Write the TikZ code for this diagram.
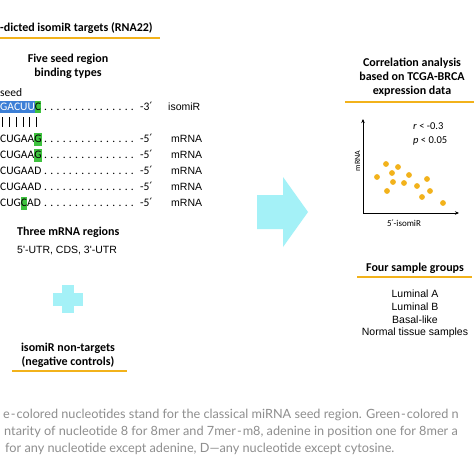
\documentclass[tikz,border=0pt]{standalone}
\usepackage{fontspec}
\setmainfont{Carlito}
\newfontfamily\arialf{Liberation Sans}
\newfontfamily\capf{Lato}
\newfontfamily\primef{DejaVu Sans}
\usetikzlibrary{arrows.meta}
\definecolor{gold}{HTML}{F2B21B}
\definecolor{cyanl}{HTML}{A4F1F7}
\definecolor{seedblue}{HTML}{3C7FD6}
\definecolor{seedgreen}{HTML}{3EC23E}
\definecolor{capgray}{HTML}{8E8E8E}
\newcommand\pr{{\primef ′}}
\newcommand\hy{\hspace{1pt}-\hspace{1pt}}
\newcommand\hlbox[2]{{\setlength{\fboxsep}{0pt}\colorbox{#1}{\rule[-3pt]{0pt}{12.5pt}#2}}}
\newcommand\dotrow{\foreach \i in {1,...,15}{.\hspace{3.3pt}}}
\tikzset{
  head/.style={font=\bfseries\fontsize{12}{14}\selectfont, align=center, inner sep=0},
  seq/.style={font=\fontsize{11.5}{12}\selectfont, anchor=base west, inner sep=0},
  lab/.style={font=\arialf\fontsize{10.5}{13}\selectfont, inner sep=0},
  goldline/.style={draw=gold, line width=1.6pt},
  captext/.style={font=\capf\fontsize{12.7}{14}\selectfont, text=capgray, anchor=base west, inner sep=0},
  cyanshape/.style={fill=cyanl, draw=none},
  golddot/.style={fill=gold, draw=none}
}
\begin{document}
\begin{tikzpicture}[x=1pt,y=-1pt]
\useasboundingbox (0,0) rectangle (474,474);
\clip (0,0) rectangle (474,474);
\fill[white] (0,0) rectangle (474,474);

% ---- left block
\node[head, anchor=west] (title) at (0,28) {-dicted isomiR targets (RNA22)};
\coordinate (tl1) at (0,38); \coordinate (tl2) at (160,38);
\draw[goldline] (tl1) -- (tl2);
\node[head] (five) at (68,66.5) {Five seed region\\binding types};
\node[seq] (seedlbl) at (0,96) {seed};

\node[seq] (s0) at (0,110) {\hlbox{seedblue}{\color{white}GACUU}\hlbox{seedgreen}{C}};
\node[seq] (d0) at (44,110) {\dotrow};
\node[seq] (e0) at (140,110) {-3\pr};
\node[lab, anchor=base west] (l0) at (168,110) {isomiR};

\foreach \i in {0,...,5} \draw[line width=0.8pt] (2.5+6.8*\i,117) -- (2.5+6.8*\i,127);

\node[seq] (s1) at (0,142.5) {CUGAA\hlbox{seedgreen}{G}};
\node[seq] (s2) at (0,158.5) {CUGAA\hlbox{seedgreen}{G}};
\node[seq] (s3) at (0,174.5) {CUGAAD};
\node[seq] (s4) at (0,190.5) {CUGAAD};
\node[seq] (s5) at (0,206.5) {CUG\hlbox{seedgreen}{C}AD};
\foreach \n/\y in {1/142.5,2/158.5,3/174.5,4/190.5,5/206.5}{
  \node[seq] (d\n) at (44,\y) {\dotrow};
  \node[seq] (e\n) at (140,\y) {-5\pr};
  \node[lab, anchor=base west] (l\n) at (171,\y) {mRNA};
}

\node[head, anchor=west] (three) at (17,232) {Three mRNA regions};
\node[lab, anchor=west] (regions) at (17,251) {5'-UTR, CDS, 3'-UTR};

% plus sign
\fill[cyanshape] (62,285) rectangle (74,313);
\fill[cyanshape] (53,292.5) rectangle (83,305.5);

\node[head] (nont) at (68,355) {isomiR non-targets\\(negative controls)};
\coordinate (nl1) at (12,371); \coordinate (nl2) at (127,371);
\draw[goldline] (nl1) -- (nl2);

% big arrow
\fill[cyanshape] (257,195) -- (283,195) -- (283,177) -- (308,212) -- (283,247) -- (283,229) -- (257,229) -- cycle;

% ---- right block
\node[head] (corr) at (412,77) {Correlation analysis\\based on TCGA-BRCA\\expression data};
\coordinate (cl1) at (345,102); \coordinate (cl2) at (474,102);
\draw[goldline] (cl1) -- (cl2);

\coordinate (o) at (363,213);
\coordinate (ytop) at (363,119);
\coordinate (xend) at (459,213);
\draw[line width=0.9pt, -{Stealth[length=4pt,width=3.5pt]}] (o) -- (ytop);
\draw[line width=0.9pt, -{Stealth[length=4pt,width=3.5pt]}] (o) -- (xend);
\node[font=\fontsize{8}{10}\selectfont, rotate=90, inner sep=0] (ylab) at (357.5,161) {mRNA};
\node[font=\fontsize{9}{11}\selectfont, inner sep=0] (xlab) at (404,223) {5\pr-isomiR};
\node[font=\fontsize{10.5}{14}\selectfont, align=left, inner sep=0, anchor=north west] (stats) at (413,122) {\textit{r} < -0.3\\\textit{p} < 0.05};

\foreach \x/\y in {386/164,398/167,392/173,409/175,377/177,393/182,404/183,427/179,417/186,387/191,430/191,422/197,443/203}
  \fill[golddot] (\x,\y) circle (2.9);

\node[head] (four) at (415,268) {Four sample groups};
\coordinate (fl1) at (357,277); \coordinate (fl2) at (472,277);
\draw[goldline] (fl1) -- (fl2);
\node[lab, align=center, font=\arialf\fontsize{10.5}{12.7}\selectfont] (groups) at (415,314) {Luminal A\\Luminal B\\Basal-like\\Normal tissue samples};

% ---- caption
\node[captext] (c1) at (3,418) {e\hy colored nucleotides stand for the classical miRNA seed region. Green\hy colored n};
\node[captext] (c2) at (4,435) {ntarity of nucleotide 8 for 8mer and 7mer\hy m8, adenine in position one for 8mer a};
\node[captext] (c3) at (5,452) {for any nucleotide except adenine, D—any nucleotide except cytosine.};
\end{tikzpicture}
\end{document}
